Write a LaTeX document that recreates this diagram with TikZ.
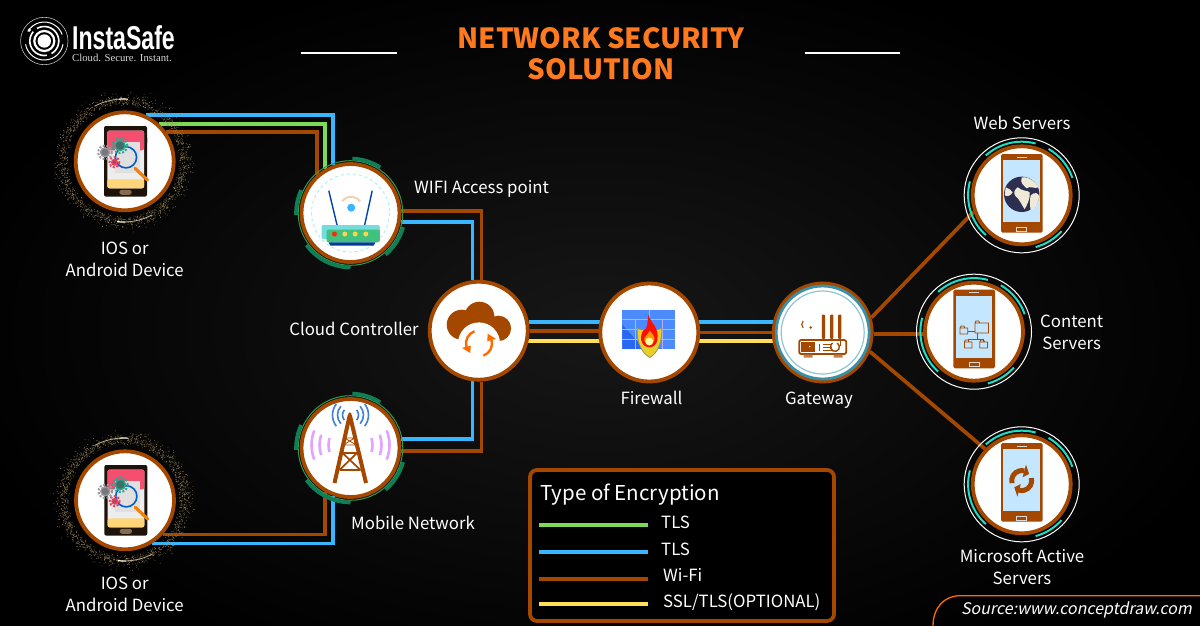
\documentclass[tikz,border=0pt]{standalone}
\usepackage{fontspec}
\setmainfont{Noto Sans CJK SC}
\newfontfamily\slantfont[FakeSlant=.2]{Noto Sans CJK SC}
\pgfdeclarelayer{bg}
\pgfdeclarelayer{links}
\pgfsetlayers{bg,links,main}

\definecolor{wbrown}{HTML}{A44800}
\definecolor{wblue}{HTML}{38B6FF}
\definecolor{wgreen}{HTML}{7ED957}
\definecolor{wyellow}{HTML}{FFDE59}
\definecolor{worange}{HTML}{FF7A1F}
\definecolor{wring}{HTML}{0F7F55}
\definecolor{wteal}{HTML}{1DDFC5}
\definecolor{wscreen}{HTML}{C5E6FF}
\definecolor{wnavy}{HTML}{2E2E50}
\definecolor{wcream}{HTML}{EFE9D8}
\definecolor{wdust}{HTML}{A08A5E}
\definecolor{wgeara}{HTML}{2FA58E}
\definecolor{wgearb}{HTML}{9B9B9F}
\definecolor{wgearc}{HTML}{E9415F}
\definecolor{wcorea}{HTML}{3F6F6A}
\definecolor{wcoreb}{HTML}{77777C}
\definecolor{wcorec}{HTML}{A84A5C}
\definecolor{wpink}{HTML}{F54E6F}
\definecolor{wpale}{HTML}{FFD57A}
\definecolor{wviolet}{HTML}{E0A3FF}
\definecolor{wwave}{HTML}{3F7FD0}
\definecolor{wgwouter}{HTML}{3B8FA6}
\definecolor{wgwinner}{HTML}{8FC4D0}
\definecolor{wflip}{HTML}{FF6A00}

\tikzset{
  hub/.style={circle, draw=wbrown, fill=white, line width=3.8, minimum size=98, inner sep=0},
  lbl/.style={text=white, align=center, inner sep=0, font=\fontsize{16.8}{22}\selectfont},
  lblleft/.style={lbl, anchor=west},
  cable/.style={line width=3.7, line join=miter},
  brownlink/.style={cable, draw=wbrown},
  bluelink/.style={cable, draw=wblue},
  greenlink/.style={cable, draw=wgreen},
  yellowlink/.style={cable, draw=wyellow},
  greenarc/.style={draw=wring, line width=3.6},
  tealarc/.style={draw=wteal, line width=2},
  devphone/.pic={
    \fill[rounded corners=2, black!85!brown] (-20.7,-35.3) rectangle (22.3,35.3);
    \fill[rounded corners=2, black!7] (-17.3,-30.7) rectangle (19.3,27);
    \fill[rounded corners=2, wpink] (-17.3,-30.7) rectangle (19.3,-11);
    \fill[black!12] (-9.7,-19.7) rectangle (15.3,12);
    \fill[rounded corners=2, wpale] (-17.3,18) rectangle (19.3,27);
    \fill[rounded corners=2.5, black!45!brown!80!white] (-5.3,28.5) rectangle (7,33.5);
    \fill[orange!70] (22.3,-23) rectangle (23.2,-18);
    \draw[blue!55!cyan!80!black, line width=1.6] (1.3,-4) circle (10.6);
    \draw[orange!80!brown, line width=3.2, line cap=round] (10.3,7) -- (22.7,18.7);
    \foreach \Xg/\Yg/\Rg/\Cg/\Cc in {-4.7/-15.7/6.6/wgeara/wcorea, -19.7/-9/6/wgearb/wcoreb, -10.3/1/4.2/wgearc/wcorec} {
      \draw[draw=\Cg, line width=2, dash pattern=on 2 off 1.7] (\Xg,\Yg) circle (\Rg+.8);
      \filldraw[fill=\Cc, draw=\Cg, line width=1.4] (\Xg,\Yg) circle (\Rg-1.5);
    }
  },
  srvphone/.pic={
    \fill[rounded corners=1.5, wbrown] (-20.7,-41.3) rectangle (21,37.3);
    \fill[wscreen] (-18.3,-35.3) rectangle (18.3,26.7);
    \draw[black!15, line width=.9] (-5,-38.3) -- (5,-38.3);
    \draw[black!15, line width=.7] (-5,31.7) -- ++(10,0) -- ++(0,4) -- ++(-10,0) -- cycle;
  },
}

\begin{document}
\begin{tikzpicture}[x=1pt, y=-1pt]

\useasboundingbox (0,0) rectangle (1200,625);

\def\Rdust{62}

\begin{pgfonlayer}{bg}
\fill[black] (0,0) rectangle (1200,625);
\shade[inner color=black!91, outer color=black] (-60,-40) rectangle (1260,700);
\end{pgfonlayer}

% -- dust round the two devices
\pgfmathsetseed{4242}
\foreach \Xd/\Yd in {123.5/161, 124/500} {
  \begin{scope}[shift={(\Xd,\Yd)}]
    \foreach \i in {1,...,1500} {
      \pgfmathsetmacro\Ang{rnd*360}
      \pgfmathsetmacro\Rad{\Rdust-7+rnd*rnd*13+rnd*6}
      \fill[wdust, opacity=.8] (\Ang:\Rad) circle (.45);
    }
    \draw[wdust!70!white, line width=.8] (-92:62) arc[start angle=-92, end angle=-118, radius=62];
    \draw[wdust!70!white, line width=.8] (88:61) arc[start angle=88, end angle=62, radius=61];
    \draw[white!90!yellow, line width=1.2] (-94:62) arc[start angle=-94, end angle=-86, radius=62];
    \draw[white!90!yellow, line width=1.2] (88:61) arc[start angle=88, end angle=96, radius=61];
  \end{scope}
}

% -- the hubs
\node[hub] (dev1) at (124.7,161.3) {};
\node[hub] (wifi) at (350.5,213) {};
\node[hub] (ctrl) at (478.7,330.7) {};
\node[hub] (mobile) at (350.5,448) {};
\node[hub] (dev2) at (125,500.3) {};
\node[hub] (fw) at (649.3,332.5) {};
\node[hub] (gw) at (822.7,332.5) {};
\node[hub] (web) at (1021.7,195.3) {};
\node[hub] (content) at (974,331.7) {};
\node[hub] (adsrv) at (1021.7,484.3) {};

% -- connectors
\begin{pgfonlayer}{links}
\draw[bluelink] (dev1.65) -| (wifi.110);
\draw[greenlink] (dev1.47) -| (wifi.120);
\draw[brownlink] (dev1.35) -| (wifi.131);

\draw[brownlink] (wifi.2) -| (ctrl.87);
\draw[bluelink] (wifi.-10) -| (ctrl.97);
\draw[bluelink] (mobile.10) -| (ctrl.-97);
\draw[brownlink] (mobile.-3) -| (ctrl.-87);

\draw[brownlink] (dev2.-42) -| (mobile.-120);
\draw[bluelink] (dev2.-58) -| (mobile.-110);

\draw[bluelink] (ctrl.10) -- (ctrl.10 -| fw);
\draw[brownlink] (ctrl.0) -- (ctrl.0 -| fw);
\draw[yellowlink] (ctrl.-12) -- (ctrl.-12 -| fw);
\draw[bluelink] (fw.12) -- (fw.12 -| gw);
\draw[brownlink] (fw.0) -- (fw.0 -| gw);
\draw[yellowlink] (fw.-10) -- (fw.-10 -| gw);

\draw[brownlink] (gw.17) -- (web.199);
\draw[brownlink] (gw.-2) -- (gw.-2 -| content);
\draw[brownlink] (gw.-22) -- (adsrv.136);
\end{pgfonlayer}

% -- rings
\foreach \Hub in {wifi, mobile} {
  \begin{scope}[shift={(\Hub)}]
    \draw[wring!70!wgreen, line width=1] (0,0) circle (52.3);
    \foreach \Aa/\Ab in {-88/-57, 15/50, 90/144, 178/205}
      \draw[greenarc] (\Aa:54.5) arc[start angle=\Aa, end angle=\Ab, radius=54.5];
  \end{scope}
}
\foreach \Hub in {web, content, adsrv} {
  \begin{scope}[shift={(\Hub)}]
    \draw[white, line width=1] (0,0) circle (57.5);
    \foreach \Aa/\Ab in {-132/-75, -60/-19, 42/75, 132/195}
      \draw[tealarc] (\Aa:53.6) arc[start angle=\Aa, end angle=\Ab, radius=53.6];
  \end{scope}
}

% -- device icons
\pic at (dev1) {devphone};
\pic at (dev2) {devphone};

% -- router
\begin{scope}[shift={(wifi)}]
  \draw[wteal!40!white, line width=.9, dashed] (0,0) circle (39);
  \draw[blue!60!cyan!65!black, line width=1.4] (-21.7,-22.3) -- (-13.3,12.7);
  \draw[blue!60!cyan!65!black, line width=1.4] (21.7,-22.3) -- (14,12.7);
  \draw[orange!40!brown!35!white, line width=2] (-145:11) ++(.7,-5.3) arc[start angle=-145, end angle=-35, radius=11];
  \fill[wblue] (.7,-5.3) circle (4);
  \fill[rounded corners=2, teal!50!cyan!55!white] (-29,12) rectangle (29.3,26);
  \fill[rounded corners=2, teal!65!green!75!white] (-24,16.7) rectangle (29.3,29.3);
  \fill[blue!60!cyan!60!black] (-22,29.3) -- (25,29.3) -- (23,32.7) -- (-20,32.7) -- cycle;
  \fill[red!70!orange] (-16,21) circle (2.5);
  \foreach \Xl in {-5.7,4.7,15.3}
    \fill[wyellow!90!orange] (\Xl,21) circle (2.5);
\end{scope}

% -- tower
\begin{scope}[shift={(mobile)}]
  \foreach \Sg in {-1,1} {
    \foreach \Rr/\Aw in {8/40, 13/42, 18/38}
      \draw[wwave, line width=1.6, xscale=\Sg] (-\Aw:\Rr) ++(0,-33) arc[start angle=-\Aw, end angle=\Aw, radius=\Rr];
    \foreach \Rr/\Aw in {22/18, 31/19, 39/22}
      \draw[wviolet, line width=2.6, xscale=\Sg] (-\Aw:\Rr) ++(0,-3) arc[start angle=-\Aw, end angle=\Aw, radius=\Rr];
  }
  \draw[wbrown, line width=4] (-.7,-33) -- (-16,35);
  \draw[wbrown, line width=4] (-.7,-33) -- (15.5,35);
  \fill[wbrown] (-.7,-34) circle (1.8);
  \draw[wbrown, line width=.8] (-6,-10) -- (4,-10) (-7,-3) -- (6,-3) (-6,-10) -- (6,-3) (4,-10) -- (-7,-3);
  \draw[wbrown, line width=1.7] (-8,5) -- (6.5,5) (-11,22) -- (10,22) (-8,5) -- (10,22) (6.5,5) -- (-11,22);
\end{scope}

% -- cloud
\begin{scope}[shift={(ctrl)}]
  \fill[wbrown] (.7,-14) circle (15);
  \fill[wbrown] (-17,-6) circle (15);
  \fill[wbrown] (19.7,-2.3) circle (12.7);
  \fill[wbrown] (-17,-8) rectangle (19,8);
  \fill[white] (.3,12.7) circle (21);
  \begin{scope}[shift={(.3,12.7)}]
    \draw[wflip, line width=2.4] (70:13) arc[start angle=70, end angle=-15, radius=13];
    \fill[wflip] (-15:8.5) -- (-15:17.5) -- (-48:13) -- cycle;
    \draw[wflip, line width=2.4] (250:13) arc[start angle=250, end angle=165, radius=13];
    \fill[wflip] (165:8.5) -- (165:17.5) -- (132:13) -- cycle;
  \end{scope}
\end{scope}

% -- firewall
\begin{scope}[shift={(fw)}]
  \fill[blue!65!cyan!70!white] (-27,-23) rectangle (25.7,16.7);
  \fill[blue!75!cyan!90!black, opacity=.45] (-27,16.7) -- (-27,-8) -- (-5,16.7) -- cycle;
  \foreach \Yb in {-13.2,-3.4,6.4}
    \draw[white!70!blue, line width=.6] (-27,\Yb) -- (25.7,\Yb);
  \foreach \Xb/\Yb in {-.5/-23, -14/-13.2, 13/-13.2, -.5/-3.4, -14/6.4, 13/6.4, -14/-3.4, 13/-3.4}
    \draw[white!70!blue, line width=.6] (\Xb,\Yb) -- ++(0,9.8);
  \filldraw[fill=yellow!65!brown, draw=yellow!55!black, line width=.8] (-12,-4) .. controls (-6,-2) and (6,-2) .. (12.5,-4) .. controls (13,10) and (8,21) .. (.5,25) .. controls (-7,21) and (-13,10) .. (-12,-4) -- cycle;
  \fill[red!90!orange] (-1,-18) .. controls (2,-8) and (10,-6) .. (8,8) .. controls (6,17) and (-6,17) .. (-8,8) .. controls (-9,1) and (-6,-2) .. (-5,-3) .. controls (-2,-2) and (-2,-10) .. (-1,-18) -- cycle;
  \fill[orange!80!yellow] (.5,-2) .. controls (2,1) and (6,3) .. (5,8) .. controls (4,13) and (-4,13) .. (-5,8) .. controls (-6,4) and (-1,2) .. (.5,-2) -- cycle;
  \fill[yellow!40!white] (0,9) circle (4);
\end{scope}

% -- gateway
\begin{scope}[shift={(gw)}]
  \draw[wgwouter, line width=2.8] (0,0) circle (46.5);
  \draw[wgwinner, line width=1.2] (0,0) circle (41.5);
  \foreach \Xa in {.7,9,17}
    \fill[wbrown, rounded corners=1] (\Xa-1.6,-18) rectangle (\Xa+1.6,6.5);
  \draw[wbrown, line width=1.1] (-16,-8) ++(-3.5,3.5) arc[start angle=135, end angle=225, radius=5] ;
  \fill[wbrown] (-12,-5) circle (1.4);
  \fill[wbrown!45!white] (-11,6) rectangle (15,8.5);
  \draw[wbrown, line width=1.8, fill=white, rounded corners=2] (-23.5,7.5) rectangle (23.5,21.5);
  \fill[wbrown] (-21.5,9.5) rectangle (-8,19);
  \fill[white] (-13,14) circle (.8);
  \draw[wbrown, line width=1] (-3.5,11) -- (-3.5,18) (0,11.5) -- (9,11.5) (0,14.5) -- (9,14.5) (0,17.5) -- (9,17.5);
  \draw[wbrown, line width=1.4] (14.5,10.5) arc[start angle=-60, end angle=240, radius=4.5];
  \draw[wbrown, line width=1.4] (17.5,8) -- (17.5,13);
  \fill[wbrown!70!white] (-19,22) rectangle (-10,25) (11,22) rectangle (20,25);
\end{scope}

% -- server phones
\pic at (web) {srvphone};
\pic at ([yshift=.7]content) {srvphone};
\pic at (adsrv) {srvphone};

\begin{scope}[shift={(web)}]
  \fill[wnavy] (0,-1) circle (17.7);
  \fill[wcream] (0,-18) .. controls (8,-19) and (14,-13) .. (17,-8) .. controls (13,-6) and (8,-10) .. (5,-7) .. controls (2,-10) and (-2,-12) .. (0,-18) -- cycle;
  \fill[wcream] (-4,-8) .. controls (0,-4) and (6,-5) .. (8,-3) .. controls (9,3) and (5,10) .. (3,14) .. controls (0,10) and (-2,4) .. (-6,1) .. controls (-9,-2) and (-7,-6) .. (-4,-8) -- cycle;
  \fill[wcream] (9,0) .. controls (13,-4) and (17,-2) .. (17.5,1) .. controls (17,8) and (13,13) .. (9,15) .. controls (8,10) and (8,4) .. (9,0) -- cycle;
  \fill[wcream] (-16,-8) .. controls (-13,-6) and (-10,-6) .. (-9,-3) .. controls (-11,0) and (-14,2) .. (-17,0) -- cycle;
\end{scope}

\begin{scope}[shift={([yshift=.7]content)}, xscale=.96, wbrown, line width=.8]
  \foreach \Xf/\Yf/\Wf/\Hf in {-14.5/-3/8/6, 1/-8/14/10, -10/11/8/6, 6/11/8/6}
    \filldraw[fill=wscreen, draw=wbrown] (\Xf,\Yf) rectangle ++(\Wf,\Hf) (\Xf,\Yf) -- ++(1,-2) -- ++(3,0) -- ++(1,2);
  \draw (-6.5,0) -- (1,0) (4,2) -- (4,8) -- (-6,8) -- (-6,11) (4,8) -- (10,8) -- (10,11);
\end{scope}

\begin{scope}[shift={([yshift=3.7]adsrv)}]
  \draw[wbrown, line width=5] (165:10) arc[start angle=165, end angle=285, radius=10];
  \fill[wbrown] (285:3.5) -- (285:16.5) -- (318:10) -- cycle;
  \draw[wbrown, line width=5] (-15:10) arc[start angle=-15, end angle=105, radius=10];
  \fill[wbrown] (105:3.5) -- (105:16.5) -- (138:10) -- cycle;
\end{scope}

% -- labels
\node[lbl] (lbldev1) at (124.7,259) {IOS or\\Android Device};
\node[lbl] (lbldev2) at (124.7,594) {IOS or\\Android Device};
\node[lblleft] (lblwifi) at (414,189) {WIFI Access point};
\node[lbl] (lblctrl) at (354,329) {Cloud Controller};
\node[lblleft] (lblmobile) at (351,523) {Mobile Network};
\node[lbl] (lblfw) at (651.5,398) {Firewall};
\node[lbl] (lblgw) at (819,400) {Gateway};
\node[lbl] (lblweb) at (1022,123) {Web Servers};
\node[lbl] (lblcontent) at (1071.7,332) {Content\\Servers};
\node[lbl] (lblad) at (1022,567) {Microsoft Active\\Servers};

% -- heading
\node[text=worange, align=center, inner sep=0, font=\fontsize{27.7}{31}\selectfont\bfseries] (title) at (601,54) {NETWORK SECURITY\\SOLUTION};
\draw[white, line width=1.6] (301,53) -- (397,53);
\draw[white, line width=1.6] (805,53) -- (900,53);

% -- logo
\begin{scope}[shift={(44.3,41)}]
  \draw[white!75!black, line width=.6] (0,0) circle (23.7);
  \draw[white, line width=1] (-150:19) arc[start angle=-150, end angle=-20, radius=19];
  \draw[white, line width=1] (10:19) arc[start angle=10, end angle=170, radius=19];
  \draw[white, line width=1.6] (-120:14.5) arc[start angle=-120, end angle=60, radius=14.5];
  \draw[white, line width=1.6] (80:14.5) arc[start angle=80, end angle=220, radius=14.5];
  \draw[white, line width=2.2] (0,0) circle (10);
  \fill[white] (0,0) circle (6.7);
  \fill[white] (-15,-11) circle (1.8);
\end{scope}
\node[text=white, inner sep=0, anchor=west, font=\fontsize{33}{33}\fontspec{Liberation Sans}\bfseries, xscale=.7, transform shape] (logoname) at (72,37.3) {InstaSafe};
\node[text=white!85!black, inner sep=0, anchor=west, font=\fontsize{10.7}{11}\fontspec{Liberation Serif}] (logotag) at (72,58) {Cloud. Secure. Instant.};

% -- legend
\draw[wbrown, fill=black, line width=3.8, rounded corners=7] (530,470) rectangle (834,621);
\node[lblleft, font=\fontsize{20.5}{24}\selectfont] (legtitle) at (540,495) {Type of Encryption};
\draw[greenlink] (539,524.7) -- (648,524.7);
\draw[bluelink] (539,551.7) -- (648,551.7);
\draw[brownlink] (539,579.3) -- (648,579.3);
\draw[yellowlink] (539,604.3) -- (648,604.3);
\node[lblleft] (legtlsa) at (661,522) {TLS};
\node[lblleft] (legtlsb) at (661,549) {TLS};
\node[lblleft] (legwifi) at (663,575) {Wi-Fi};
\node[lblleft] (legssl) at (663,602) {SSL/TLS(OPTIONAL)};

% -- source
\draw[wflip, line width=1.3] (933,626) .. controls (933,608) and (944,595.7) .. (960,595.7) -- (1201,595.7);
\node[lblleft, font=\fontsize{16}{20}\slantfont] (source) at (961,610) {Source:www.conceptdraw.com};

\end{tikzpicture}
\end{document}
